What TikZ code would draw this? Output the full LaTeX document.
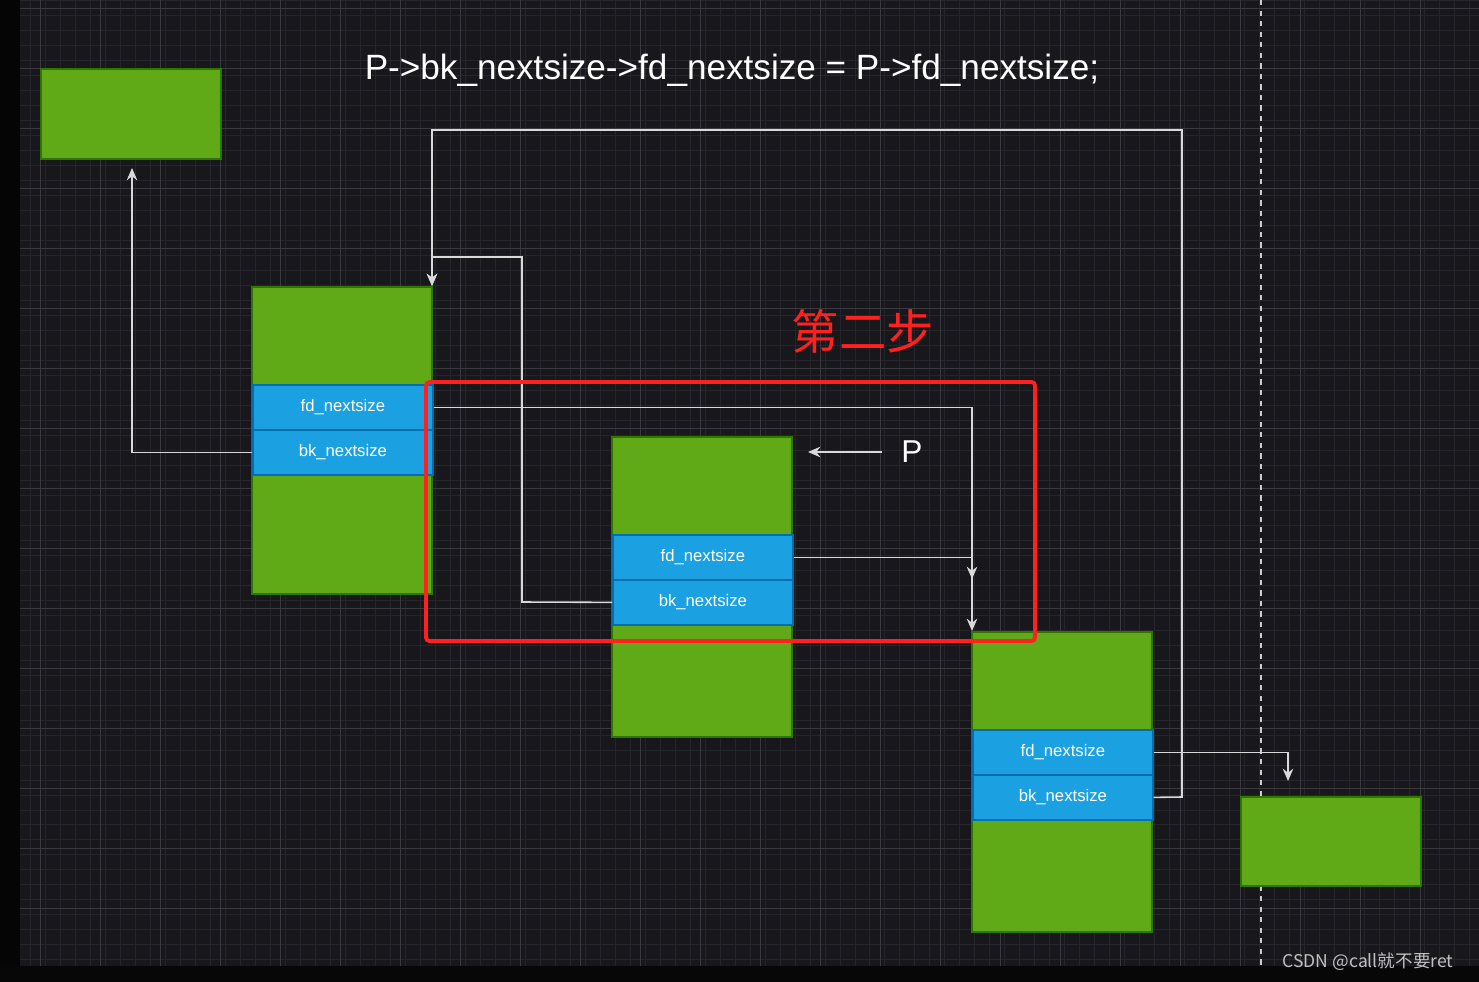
\documentclass[tikz,border=0pt]{standalone}
\usepackage{fontspec}
\setmainfont{Liberation Sans}
\newfontfamily\cjk{Noto Sans CJK SC}
\usetikzlibrary{arrows.meta}
\definecolor{bgdark}{HTML}{18171C}
\definecolor{gridminor}{HTML}{26252B}
\definecolor{gridmajor}{HTML}{3A393F}
\definecolor{chunkgreen}{HTML}{60A917}
\definecolor{chunkedge}{HTML}{2D7600}
\definecolor{fieldblue}{HTML}{1BA1E2}
\definecolor{fieldedge}{HTML}{006EAF}
\definecolor{stepred}{HTML}{FF2020}
\tikzset{
  chunk/.style={draw=chunkedge, fill=chunkgreen, line width=1pt},
  field/.style={draw=fieldedge, fill=fieldblue, line width=1pt, text=white,
    font=\fontsize{9.5pt}{11pt}\selectfont},
  link/.style={draw=white!85!black, line width=0.9pt, -{Stealth[length=7pt,width=6pt]}}
}
\begin{document}
\begin{tikzpicture}[x=0.02cm, y=-0.02cm]
    \useasboundingbox (0,0) rectangle (1479,982);

    % Background and grid
    \fill[bgdark] (0,0) rectangle (1479,982);
    \draw[gridminor, line width=0.4pt, step=0.3cm] (20,0) grid (1479,966);
    \foreach \gx in {40,100,...,1479} \draw[gridmajor, line width=0.5pt] (\gx,0) -- (\gx,966);
    \foreach \gy in {8,68,...,966} \draw[gridmajor, line width=0.5pt] (20,\gy) -- (1479,\gy);
    \fill[black!80!bgdark] (0,0) rectangle (20,966);
    \fill[black!70!bgdark] (0,966) rectangle (1479,982);
    \draw[white!80!black, dashed, line width=0.8pt] (1261,0) -- (1261,966);

    % Title
    \node[text=white, font=\fontsize{20pt}{24pt}\selectfont] (title) at (732,70) {P->bk\_nextsize->fd\_nextsize = P->fd\_nextsize;};

    % Small chunks
    \path[chunk] (41,69) rectangle (221,159);
    \coordinate (topbox) at (132,168);
    \path[chunk] (1241,797) rectangle (1421,886);
    \coordinate (rightbox) at (1288,781);

    % Chunk A
    \path[chunk] (252,287) rectangle (432,594);
    \node[field, minimum width=0.2*180cm/10, minimum height=0.9cm, inner sep=0pt, anchor=north west] (afd) at (252,384) {fd\_nextsize};
    \node[field, minimum width=3.6cm, minimum height=0.9cm, inner sep=0pt, anchor=north west] (abk) at (252,429) {bk\_nextsize};
    \coordinate (atop) at (432,286);

    % Chunk B
    \path[chunk] (612,437) rectangle (792,737);
    \node[field, minimum width=3.6cm, minimum height=0.9cm, inner sep=0pt, anchor=north west] (bfd) at (612,534) {fd\_nextsize};
    \node[field, minimum width=3.6cm, minimum height=0.9cm, inner sep=0pt, anchor=north west] (bbk) at (612,579) {bk\_nextsize};

    % Chunk C
    \path[chunk] (972,632) rectangle (1152,932);
    \node[field, minimum width=3.6cm, minimum height=0.9cm, inner sep=0pt, anchor=north west] (cfd) at (972,729) {fd\_nextsize};
    \node[field, minimum width=3.6cm, minimum height=0.9cm, inner sep=0pt, anchor=north west] (cbk) at (972,774) {bk\_nextsize};
    \coordinate (ctop) at (972,631);
    \coordinate (cmid) at (972,579);

    % Links
    \draw[link] (abk.west) -| (topbox);
    \draw[link] (cbk.east) -- (1182,797) -- (1182,130) -- (432,130) -- (atop);
    \draw[link] (bbk.west) -- (522,602) -- (522,257) -- (432,257) -- (atop);
    \draw[link] (afd.east) -| (ctop);
    \draw[link] (bfd.east) -| (cmid);
    \draw[link] (cfd.east) -| (rightbox);

    % Pointer P
    \node[text=white, font=\fontsize{18pt}{20pt}\selectfont] (p) at (912,452) {P};
    \coordinate (pend) at (808,452);
    \draw[link] (882,452) -- (pend);

    % Highlight
    \draw[stepred, line width=2.2pt, rounded corners=2pt] (426,382) rectangle (1035,641);
    \node[text=stepred, font=\cjk\fontsize{27pt}{30pt}\selectfont] (step) at (863,331) {第二步};

    % Watermark
    \node[text=white!75!black, font=\cjk\fontsize{10pt}{12pt}\selectfont] (mark) at (1368,962) {CSDN @call就不要ret};
\end{tikzpicture}
\end{document}
